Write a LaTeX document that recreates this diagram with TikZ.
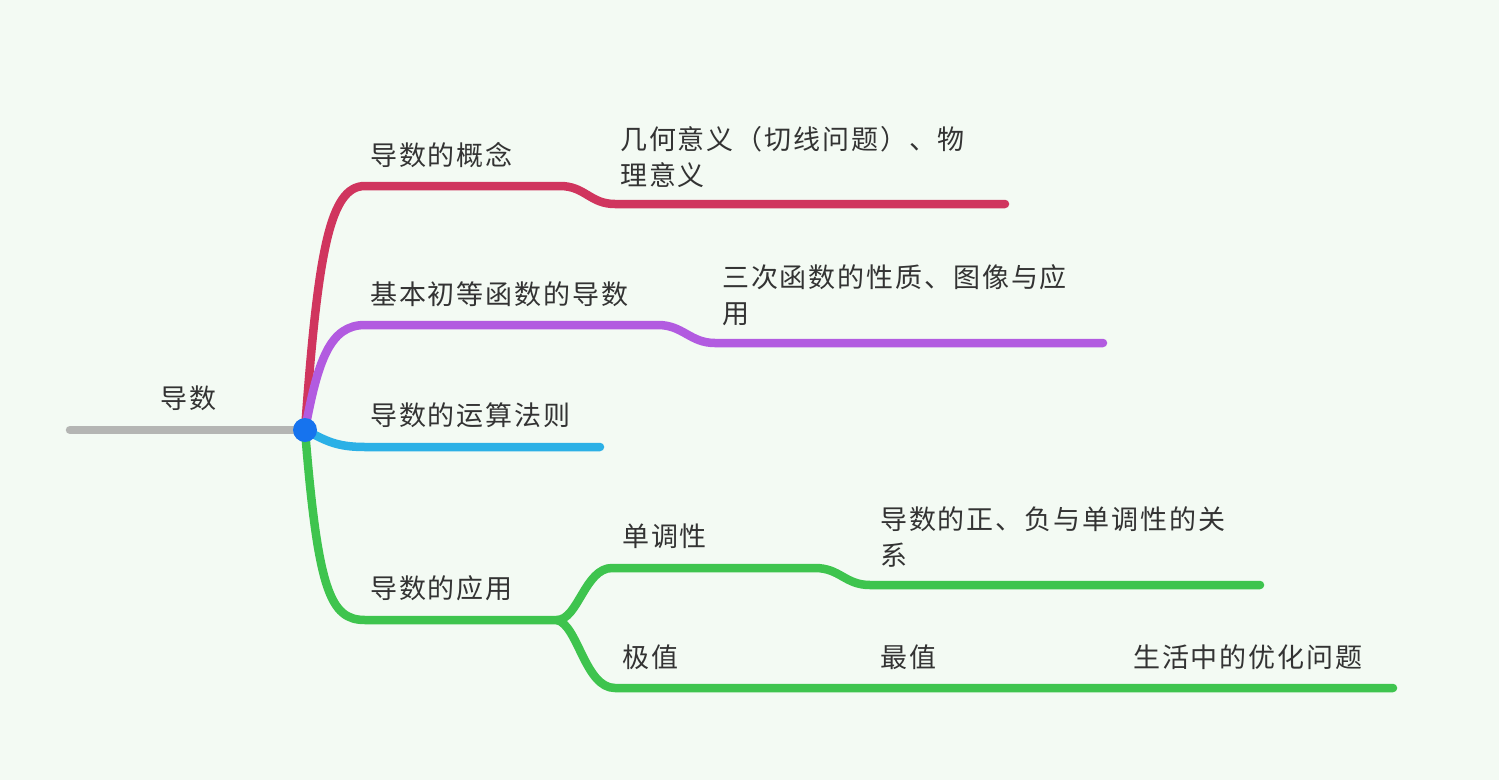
\documentclass[tikz,border=0pt]{standalone}
\usepackage{fontspec}
\setmainfont{Noto Sans CJK SC}
\newfontfamily\lblfont[LetterSpace=7]{Noto Sans CJK SC}
\definecolor{bgc}{HTML}{F3FAF3}
\definecolor{cred}{HTML}{D0355E}
\definecolor{cpur}{HTML}{B25BE0}
\definecolor{cblu}{HTML}{2BB0E6}
\definecolor{cgrn}{HTML}{3EC44E}
\definecolor{cgry}{HTML}{B4B5B3}
\definecolor{cdot}{HTML}{1673EE}
\definecolor{ctxt}{HTML}{333333}
\begin{document}
\begin{tikzpicture}[x=1pt,y=-1pt,
  br/.style={line width=8.5pt,line cap=round,line join=round},
  lbl/.style={anchor=west,inner sep=0pt,text=ctxt,font=\lblfont\fontsize{27}{36}\selectfont},
  lbl2/.style={lbl,align=left}]
\fill[bgc] (0,0) rectangle (1499,780);
\useasboundingbox (0,0) rectangle (1499,780);
% coordinates
\coordinate (r0) at (70,430);
\coordinate (c) at (305,430);
\coordinate (a1) at (365,186); \coordinate (a2) at (560,186); \coordinate (a3) at (615,204); \coordinate (a4) at (1005,204);
\coordinate (b1) at (365,325); \coordinate (b2) at (658,325); \coordinate (b3) at (715,343); \coordinate (b4) at (1103,343);
\coordinate (d1) at (365,447); \coordinate (d2) at (600,447);
\coordinate (g1) at (365,620); \coordinate (g2) at (557,620);
\coordinate (h1) at (612,568); \coordinate (h2) at (815,568); \coordinate (h3) at (870,585); \coordinate (h4) at (1260,585);
\coordinate (k1) at (615,688); \coordinate (k2) at (1393,688);
% root
\draw[br,cgry] (r0) -- (c);
% red
\draw[br,cred] (c) .. controls (318,250) and (330,186) .. (a1) -- (a2)
  .. controls (585,186) and (590,204) .. (a3) -- (a4);
% purple
\draw[br,cpur] (c) .. controls (318,360) and (330,325) .. (b1) -- (b2)
  .. controls (683,325) and (690,343) .. (b3) -- (b4);
% blue
\draw[br,cblu] (c) .. controls (325,440) and (335,447) .. (d1) -- (d2);
% green
\draw[br,cgrn] (c) .. controls (318,590) and (330,620) .. (g1) -- (g2);
\draw[br,cgrn] (g2) .. controls (578,620) and (585,568) .. (h1) -- (h2)
  .. controls (840,568) and (845,585) .. (h3) -- (h4);
\draw[br,cgrn] (g2) .. controls (578,625) and (585,688) .. (k1) -- (k2);
\node[circle,fill=cdot,minimum size=24pt,inner sep=0pt] (dot) at (c) {};
% labels
\node[lbl] (t0) at (160,398) {导数};
\node[lbl] (t1) at (370,155) {导数的概念};
\node[lbl2] (t11) at (620,157) {几何意义（切线问题）、物\\理意义};
\node[lbl] (t2) at (370,294) {基本初等函数的导数};
\node[lbl2] (t21) at (722,295) {三次函数的性质、图像与应\\用};
\node[lbl] (t3) at (370,415) {导数的运算法则};
\node[lbl] (t4) at (370,588) {导数的应用};
\node[lbl] (t41) at (622,536) {单调性};
\node[lbl2] (t411) at (880,537) {导数的正、负与单调性的关\\系};
\node[lbl] (t42) at (622,657) {极值};
\node[lbl] (t43) at (880,657) {最值};
\node[lbl] (t44) at (1133,657) {生活中的优化问题};
\end{tikzpicture}
\end{document}
